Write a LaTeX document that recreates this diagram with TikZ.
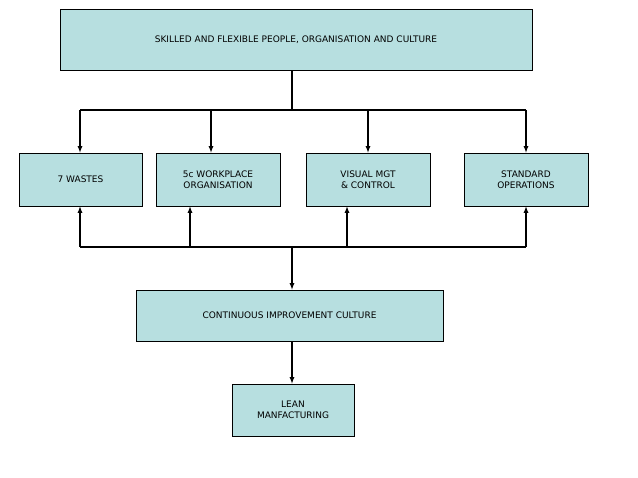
\documentclass[tikz,border=0pt]{standalone}
\usepackage{fontspec}
\setmainfont{DejaVu Sans}
\begin{document}
\begin{tikzpicture}[x=1pt,y=-1pt,
  bx/.style={draw=black,line width=0.8pt,fill=boxc,align=center,font=\fontsize{9}{11}\selectfont},
  ar/.style={-latex,line width=1.2pt},
  ln/.style={line width=1.2pt}]
\definecolor{boxc}{RGB}{183,223,224}
\useasboundingbox (0,0) rectangle (638,478);
\node[bx,minimum width=472,minimum height=61] (top) at (296,39.5) {SKILLED AND FLEXIBLE PEOPLE, ORGANISATION AND CULTURE};
\node[bx,minimum width=123,minimum height=53] (w) at (80.5,179.5) {7 WASTES};
\node[bx,minimum width=124,minimum height=53] (c5) at (218,179.5) {5c WORKPLACE\\ORGANISATION};
\node[bx,minimum width=124,minimum height=53] (v) at (368,179.5) {VISUAL MGT\\\& CONTROL};
\node[bx,minimum width=124,minimum height=53] (s) at (526,179.5) {STANDARD\\OPERATIONS};
\node[bx,minimum width=307,minimum height=51] (ci) at (289.5,315.5) {CONTINUOUS IMPROVEMENT CULTURE};
\node[bx,minimum width=122,minimum height=52] (l) at (293,410) {LEAN\\MANFACTURING};
\coordinate (b1) at (292,110);
\coordinate (b2) at (292,247);
\draw[ln] (top.south -| b1) -- (b1);
\draw[ln] (80,110) -- (526,110);
\foreach \x/\n in {80/w,211/c5,368/v,526/s} \draw[ar] (\x,110) -- (\n.north -| \x,0);
\draw[ln] (80,247) -- (526,247);
\foreach \x/\n in {80/w,190/c5,347/v,526/s} \draw[ar] (\x,247) -- (\n.south -| \x,0);
\draw[ar] (b2) -- (ci.north -| b2);
\draw[ar] (ci.south -| b2) -- (l.north -| b2);
\end{tikzpicture}
\end{document}
